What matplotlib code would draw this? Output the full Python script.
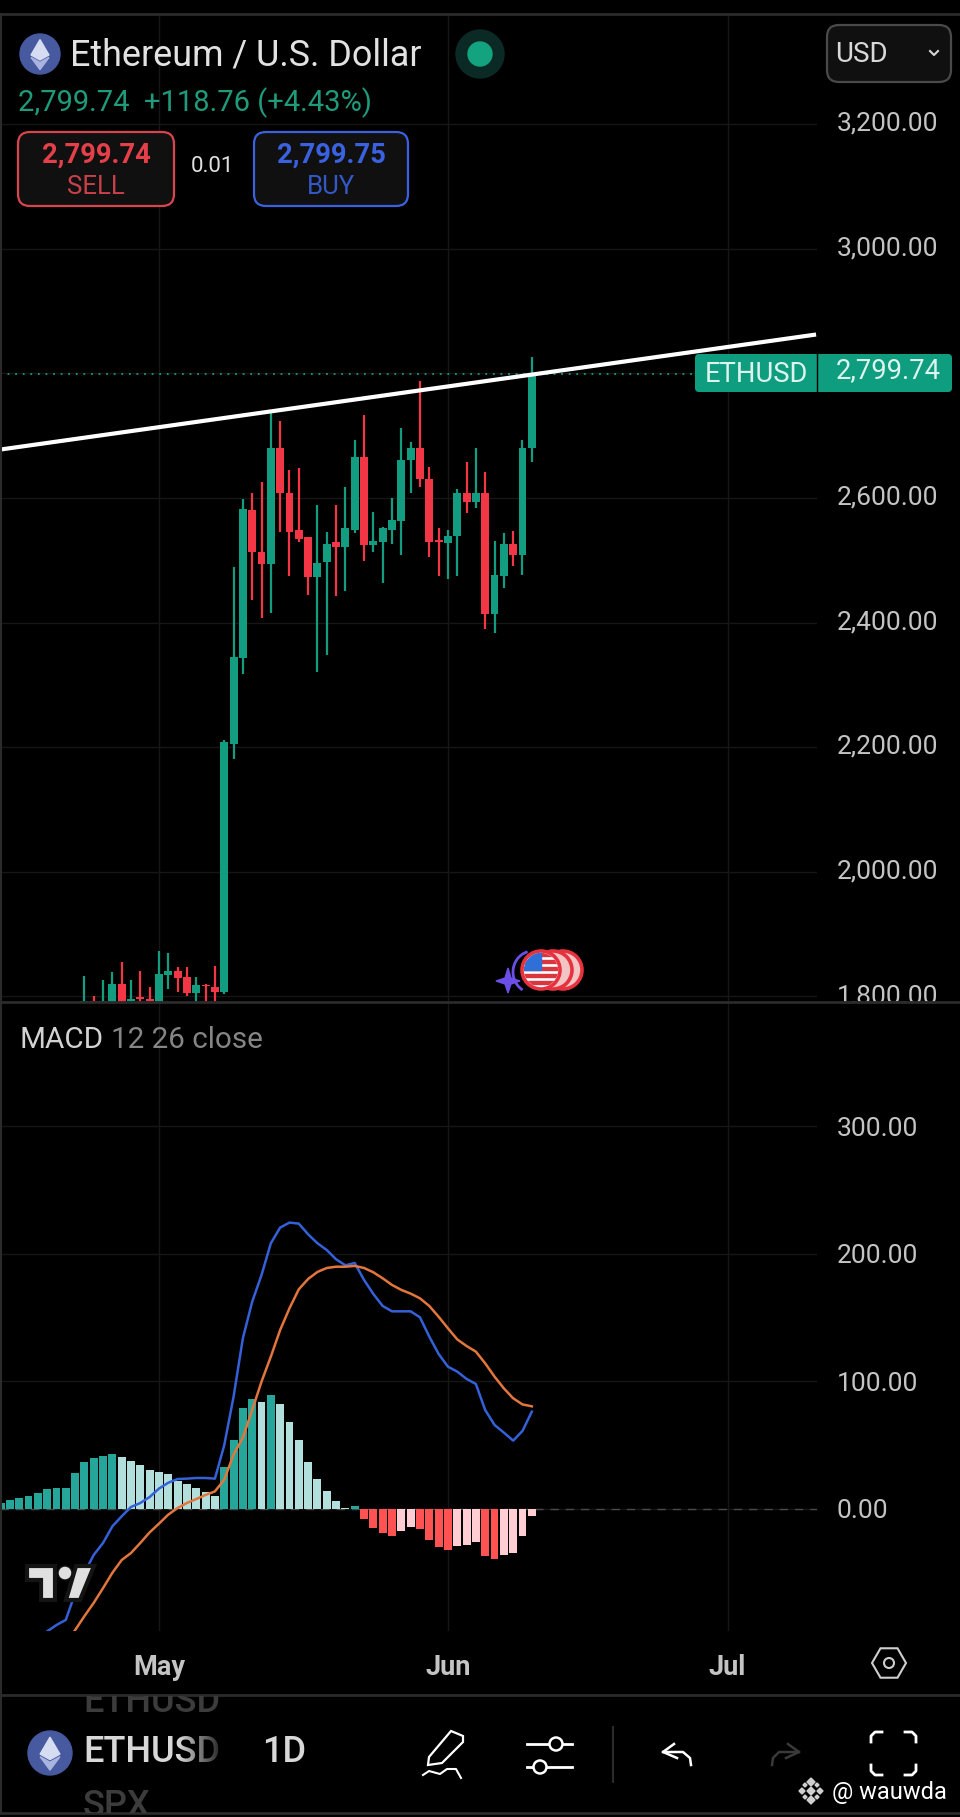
import numpy as np
import matplotlib
matplotlib.use("Agg")
import matplotlib.pyplot as plt
from matplotlib.patches import Arc, Circle, FancyBboxPatch, Polygon, Rectangle, RegularPolygon
from matplotlib.transforms import ScaledTranslation

plt.rcParams['font.family'] = ['Roboto', 'DejaVu Sans']

W, H = 960, 1817
GREEN = '#129c80'
RED = '#f23645'
GRID = '#161616'
LABEL = '#c4c4c4'
FRAME = '#2b2b2b'

# days counted from May 1st
candle_days = np.arange(-8, 41)
opens = [1790, 1793, 1789, 1785, 1820, 1793, 1799, 1796, 1785, 1834, 1841, 1831, 1806, 1819, 1815, 1807, 2205,
         2344, 2581, 2513, 2494, 2680, 2608, 2549, 2537, 2473, 2497, 2529, 2522, 2549, 2666, 2525, 2529, 2549,
         2563, 2661, 2681, 2630, 2531, 2527, 2539, 2608, 2594, 2608, 2414, 2475, 2526, 2508, 2680]
closes = [1793, 1790, 1792, 1820, 1785, 1796, 1796, 1793, 1836, 1841, 1830, 1806, 1818, 1816, 1807, 2209, 2345,
          2583, 2513, 2494, 2680, 2608, 2546, 2534, 2473, 2496, 2526, 2522, 2552, 2666, 2525, 2531, 2552, 2565,
          2661, 2681, 2630, 2529, 2529, 2539, 2608, 2594, 2608, 2414, 2476, 2526, 2508, 2681, 2799.74]
highs = [1833, 1801, 1826, 1839, 1855, 1826, 1841, 1815, 1873, 1870, 1847, 1847, 1831, 1820, 1849, 2212, 2490,
         2599, 2608, 2625, 2740, 2724, 2645, 2648, 2538, 2588, 2546, 2588, 2617, 2693, 2734, 2577, 2553, 2600,
         2713, 2690, 2788, 2649, 2552, 2549, 2614, 2658, 2680, 2642, 2531, 2544, 2547, 2693, 2827]
lows = [1785, 1788, 1786, 1780, 1780, 1785, 1785, 1787, 1780, 1812, 1807, 1801, 1785, 1785, 1785, 1804, 2181,
        2318, 2436, 2407, 2415, 2546, 2475, 2529, 2444, 2321, 2348, 2443, 2451, 2544, 2499, 2513, 2464, 2526,
        2509, 2608, 2618, 2506, 2475, 2470, 2475, 2576, 2584, 2390, 2383, 2456, 2491, 2476, 2657]

price_ticks = [1800, 2000, 2200, 2400, 2600, 2800, 3000, 3200]
macd_ticks = [0, 100, 200, 300]
month_days = [0, 31, 61]
month_labels = ['May', 'Jun', 'Jul']

last_price = 2799.74
trend_days = [-17.06, 70.5]
trend_prices = [2677.7, 2862.4]

hist_days = np.arange(-17, 41)
hist = [4.7, 7, 8.6, 10.4, 12.5, 15.7, 16.7, 16.7, 28.5, 37, 40.2, 41.5, 43.3, 40.7, 37.6, 34.5, 30.5, 29, 27.4,
        22.2, 19.6, 16.7, 13.3, 10.4, 32.9, 54.3, 79, 86, 83.8, 89.3, 82.2, 68.1, 54.3, 37, 23.8, 14.4, 6.5, 0.8,
        2.6, -7.6, -14.6, -18.5, -20.9, -17, -13.8, -15.4, -24, -29.5, -31.9, -28.7, -27.9, -25.6, -36.6, -38.9,
        -35.8, -34.2, -20.9, -5.2]

macd_line = [-103, -96, -91, -87, -66, -50, -36, -26.6, -13.6, -5.7, 1.6, 4.7, 9.4, 16, 20.6, 23.5, 23.8, 24.3,
             24.3, 23.8, 50, 88, 133.9, 162.6, 183.5, 208.4, 220.7, 224.6, 223.8, 215.4, 208.4, 203.1, 195.8,
             191.1, 192.9, 179.6, 168.6, 159.2, 155, 155, 155, 150.3, 135.2, 121.6, 111.6, 107.7, 102, 98, 77.6,
             65.9, 59.9, 53.6, 61.2, 76.3]
signal_line = [-105, -95, -84, -73.6, -62, -50, -40, -34.5, -26.6, -18.3, -11.5, -4.4, 0.8, 4.7, 7.8, 11, 13.8,
               23, 42.6, 56, 77.6, 99.9, 119.5, 140.4, 157.4, 172.3, 180.4, 185.9, 189, 190, 190, 190.6, 189,
               185.6, 180.9, 175.7, 171.8, 168.9, 165.2, 159.2, 150.8, 141.7, 133, 127.8, 123.4, 114.2, 103.8,
               94.6, 86.8, 82, 80.5]


def pane(top, bottom, left=0, right=817):
    ax = fig.add_axes([left / W, 1 - bottom / H, (right - left) / W, (bottom - top) / H])
    ax.set_facecolor('black')
    for spine in ax.spines.values():
        spine.set_visible(False)
    ax.set_xlim(-17.06, 70.6)
    ax.yaxis.tick_right()
    ax.set_xticks(month_days)
    ax.grid(True, color=GRID, lw=1)
    ax.set_axisbelow(True)
    ax.tick_params(length=0, colors=LABEL, labelsize=19)
    return ax


def hist_color(i):
    prev = hist[i - 1] if i > 0 else 0
    if hist[i] >= 0:
        return '#26a69a' if hist[i] >= prev else '#b2dfdb'
    return '#ff5252' if hist[i] < prev else '#ffcdd2'


def eth_logo(ax, x, y, r):
    ax.add_patch(Circle((x, y), r, color='#47599f'))
    ax.add_patch(Polygon([(x, y - r * .72), (x + r * .45, y + r * .05), (x, y + r * .3), (x - r * .45, y + r * .05)],
                         color='#d6dcf2'))
    ax.add_patch(Polygon([(x, y + r * .42), (x + r * .45, y + r * .17), (x, y + r * .78), (x - r * .45, y + r * .17)],
                         color='#aab4e0'))


def button(ax, x0, y0, x1, y1, edge, rounding=12):
    ax.add_patch(FancyBboxPatch((x0 + 8, y0 + 8), x1 - x0 - 16, y1 - y0 - 16,
                                boxstyle=f'round,pad=8,rounding_size={rounding}',
                                fc='#101010', ec=edge, lw=1.6))


fig = plt.figure(figsize=(W / 100, H / 100), dpi=100, facecolor='black')

# price pane
ax = pane(16, 1002)
ax.set_ylim(1791.1, 3373.6)
ax.set_yticks(price_ticks)
# the 2,800.00 label sits under the last price tag, so it stays blank
ax.set_yticklabels(['' if p == 2800 else f'{p:,.2f}' for p in price_ticks])
ax.tick_params(axis='y', pad=14.4)
for lab in ax.get_yticklabels():
    lab.set_transform(lab.get_transform() + ScaledTranslation(0, 0.028, fig.dpi_scale_trans))
ax.set_xticklabels([])
colors = [GREEN if c >= o else RED for o, c in zip(opens, closes)]
ax.vlines(candle_days, lows, highs, colors=colors, lw=1.6)
body_low = np.minimum(opens, closes)
body_high = np.maximum(opens, closes)
ax.bar(candle_days, np.maximum(body_high - body_low, 3), bottom=body_low, width=0.85, color=colors)
ax.plot([-17.06, 57.5], [last_price, last_price], color=GREEN, lw=1.3, ls=(0, (1, 3.2)))
ax.plot(trend_days, trend_prices, color='white', lw=3, solid_capstyle='butt', zorder=4)

# MACD pane
ax2 = pane(1002, 1631)
ax2.set_ylim(-95.7, 397.6)
ax2.set_yticks(macd_ticks)
ax2.set_yticklabels([f'{v:,.2f}' for v in macd_ticks])
ax2.tick_params(axis='y', pad=14.4)
ax2.set_xticklabels(month_labels, fontweight='bold', fontsize=19.5)
ax2.tick_params(axis='x', pad=16.5)
ax2.axhline(0, color='#4a4a4a', lw=1, ls=(0, (6, 5)), zorder=1)
ax2.bar(hist_days, hist, width=0.85, color=[hist_color(i) for i in range(len(hist))], zorder=2)
ax2.plot(np.arange(41 - len(macd_line), 41), macd_line, color='#3561d8', lw=1.8, zorder=3)
ax2.plot(np.arange(41 - len(signal_line), 41), signal_line, color='#e2763c', lw=1.8, zorder=3)

# everything around the panes, in pixel coordinates
ui = fig.add_axes([0, 0, 1, 1], zorder=5)
ui.patch.set_alpha(0)
ui.set_xlim(0, W)
ui.set_ylim(H, 0)
ui.axis('off')

ui.add_patch(Rectangle((820, 1002), 140, 30, color='black'))
for y in [14, 1002, 1695, 1813]:
    ui.plot([0, W], [y, y], color=FRAME, lw=2)
ui.plot([1, 1], [14, 1813], color=FRAME, lw=1.5)

eth_logo(ui, 40, 54, 20)
ui.text(70, 55, 'Ethereum / U.S. Dollar', color='#e2e2e2', fontsize=25.8, va='center')
ui.add_patch(Circle((480, 54), 24, color='#0c2a25'))
ui.add_patch(Circle((480, 54), 12, color='#14a37f'))
ui.text(18, 103, '2,799.74  +118.76 (+4.43%)', color='#1f9b7c', fontsize=21, va='center')

button(ui, 18, 132, 174, 206, '#d8454c')
ui.text(96, 155, '2,799.74', color='#e5404a', fontsize=19.7, fontweight='bold', ha='center', va='center')
ui.text(96, 187, 'SELL', color='#c9404a', fontsize=18.5, ha='center', va='center')
ui.text(212, 167, '0.01', color='#e0e0e0', fontsize=16, ha='center', va='center')
button(ui, 254, 132, 408, 206, '#3a62e0')
ui.text(331, 155, '2,799.75', color='#3a62e0', fontsize=19.7, fontweight='bold', ha='center', va='center')
ui.text(331, 187, 'BUY', color='#3458c8', fontsize=18.5, ha='center', va='center')

button(ui, 827, 25, 951, 82, '#4a4a4a')
ui.text(835, 55, 'USD', color='#d8d8d8', fontsize=20, va='center')
ui.plot([930, 934, 938], [51, 55, 51], color='#d8d8d8', lw=1.5)

# last price tag
ui.add_patch(FancyBboxPatch((698, 357), 236 + 15, 32, boxstyle='round,pad=3,rounding_size=4', fc='#0f9d80', ec='none'))
ui.plot([817, 817], [354, 392], color='black', lw=1)
ui.text(756, 374, 'ETHUSD', color='#def3ee', fontsize=19.7, ha='center', va='center')
ui.text(941, 371, '2,799.74', color='#def3ee', fontsize=19.7, ha='right', va='center')

# news marker
ui.add_patch(Arc((533, 972), 40, 42, theta1=120, theta2=255, ec='#6b4fe6', lw=2))
for cx in [563, 553]:
    ui.add_patch(Circle((cx, 970), 19, fc='#f2c4c4', ec='#e5323e', lw=2.6))
ui.add_patch(Circle((541, 970), 19, fc='white', ec='#e5323e', lw=2.6, zorder=3))
flag = Circle((541, 970), 17, transform=ui.transData)
for yy in range(953, 987, 7):
    stripe = ui.add_patch(Rectangle((522, yy), 38, 3.5, color='#d9363e', zorder=4))
    stripe.set_clip_path(flag)
canton = ui.add_patch(Rectangle((522, 953), 19, 17, color='#2f6fd8', zorder=5))
canton.set_clip_path(flag)
ui.add_patch(Polygon([(508, 968), (511, 978), (520, 981), (511, 984), (508, 993), (505, 984), (496, 981), (505, 978)],
                     color='#6b4fe6', zorder=6))

ui.text(20, 1040, 'MACD', color='#d2d2d2', fontsize=21.3, va='center')
ui.text(111, 1040, '12 26 close', color='#858585', fontsize=21.3, va='center')

# TradingView mark
halo = '#141414'
ui.add_patch(Polygon([(27, 1566), (55, 1566), (55, 1600), (41, 1600), (41, 1580), (27, 1580)], fc='#e0e0e0', ec=halo, lw=3))
ui.add_patch(Circle((65, 1573), 7, fc='#e0e0e0', ec=halo, lw=1))
ui.add_patch(Polygon([(76, 1566), (94, 1566), (80, 1600), (66, 1600)], fc='#e0e0e0', ec=halo, lw=3))

# settings hexagon on the time scale
ui.add_patch(RegularPolygon((889, 1663), 6, radius=17, orientation=np.pi / 6, fc='none', ec='#cfcfcf', lw=1.5))
ui.add_patch(Circle((889, 1663), 5, fc='none', ec='#cfcfcf', lw=1.5))

# bottom toolbar
ui.text(83, 1712, 'ETHUSD', color='#3c3c3c', fontsize=26, fontweight='medium', va='baseline',
        clip_on=True).set_clip_path(Rectangle((0, 1696), 400, 40, transform=ui.transData))
ui.text(83, 1816, 'SPX', color='#3c3c3c', fontsize=26, fontweight='medium', va='baseline',
        clip_on=True).set_clip_path(Rectangle((0, 1770), 400, 43, transform=ui.transData))
eth_logo(ui, 50, 1753, 22)
ui.text(83, 1753, 'ETHUSD', color='#d8d8d8', fontsize=26, fontweight='medium', va='center')
fade = np.zeros((1, 60, 4))
fade[0, :, 3] = np.linspace(0, 0.85, 60)
ui.imshow(fade, extent=(178, 222, 1780, 1730), aspect='auto', zorder=6)
ui.add_patch(Rectangle((222, 1730), 5, 50, color='black', zorder=6))
ui.set_xlim(0, W)
ui.set_ylim(H, 0)
ui.text(262, 1753, '1D', color='#d8d8d8', fontsize=26, fontweight='medium', va='center')

ui.add_patch(Polygon([(429, 1757), (451, 1731), (463, 1736), (463, 1742), (442, 1763), (428, 1765)], fc='none', ec='white', lw=1.6))
ui.plot([423, 429, 440, 447, 456, 461], [1775, 1771, 1774, 1769, 1769, 1778], color='white', lw=1.5)
ui.plot([527, 572], [1744, 1744], color='white', lw=2)
ui.plot([527, 572], [1767, 1767], color='white', lw=2)
ui.add_patch(Circle((556, 1744), 6.5, fc='black', ec='white', lw=1.8, zorder=4))
ui.add_patch(Circle((540, 1767), 6.5, fc='black', ec='white', lw=1.8, zorder=4))
ui.plot([613, 613], [1727, 1782], color=FRAME, lw=1.5)
ui.plot([674, 663, 677], [1744, 1752, 1758], color='white', lw=1.8)
ui.plot([663, 683, 690, 691], [1752, 1752, 1758, 1765], color='white', lw=1.8)
ui.plot([788, 799, 786], [1744, 1752, 1758], color='#3a3a3a', lw=1.8)
ui.plot([799, 779, 773, 772], [1752, 1752, 1758, 1765], color='#3a3a3a', lw=1.8)
for xa, xb, ya, yb in [(882, 871, 1732, 1742), (905, 916, 1732, 1742), (882, 871, 1775, 1765), (905, 916, 1775, 1765)]:
    sx = 1 if xb < xa else -1
    sy = 1 if yb > ya else -1
    ui.plot([xa, xb + 4 * sx, xb, xb], [ya, ya, ya + 4 * sy, yb], color='white', lw=2)

# watermark
for dx, dy, r in [(0, 0, 4), (-9, 0, 3), (9, 0, 3), (0, -9, 4), (0, 9, 4), (-6, -6, 2), (6, -6, 2), (-6, 6, 2), (6, 6, 2)]:
    ui.add_patch(RegularPolygon((811 + dx, 1791 + dy), 4, radius=r, color='#cfcfcf', zorder=6))
ui.text(832, 1792, '@ wauwda', color='white', fontsize=17, va='center', zorder=6)

fig.savefig('out.png', dpi=100, facecolor='black')
